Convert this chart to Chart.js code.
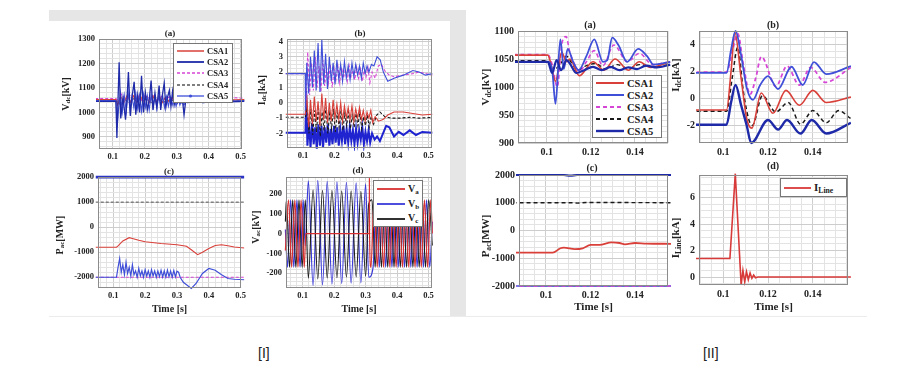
<!DOCTYPE html>
<html>
<head>
<meta charset="utf-8">
<script src="https://cdn.jsdelivr.net/npm/chart.js@4.4.1/dist/chart.umd.min.js"></script>
<style>
  body { margin: 0; width: 920px; height: 390px; background: #fff; position: relative; overflow: hidden;
         font-family: "Liberation Serif", "Times New Roman", serif; }
  canvas { position: absolute; }
  .t { position: absolute; font-weight: bold; color: #222; white-space: nowrap; transform: translate(-50%, -50%); }
  .yl { position: absolute; font-weight: bold; color: #222; white-space: nowrap; transform: translate(-50%, -50%) rotate(-90deg); }
  sub { font-size: 70%; vertical-align: -0.25em; }
  .leg { position: absolute; background: #fff; border: 1px solid #777; box-sizing: border-box; font-weight: bold; color: #222; }
  .leg div { display: flex; align-items: center; }
  .gray { position: absolute; background: #e6e6e6; }
  .cap { position: absolute; font-family: "Liberation Sans", Arial, sans-serif; font-size: 14px; color: #222; }
</style>
</head>
<body>
<div class="gray" style="left:49px;top:10px;width:417px;height:11px"></div>
<div class="gray" style="left:450px;top:10px;width:16px;height:306px"></div>
<div class="gray" style="left:49px;top:316px;width:818px;height:1px;background:#ececec"></div>

<div class="t" style="left:170px;top:33px;font-size:9px">(a)</div>
<div class="t" style="left:360px;top:33px;font-size:9px">(b)</div>
<div class="t" style="left:169px;top:171px;font-size:9px">(c)</div>
<div class="t" style="left:358px;top:170px;font-size:9px">(d)</div>
<div class="t" style="left:590px;top:24px;font-size:10px">(a)</div>
<div class="t" style="left:773px;top:24px;font-size:10px">(b)</div>
<div class="t" style="left:592px;top:167px;font-size:10px">(c)</div>
<div class="t" style="left:773px;top:165px;font-size:10px">(d)</div>

<div class="yl" style="left:66px;top:94px;font-size:10px">V<sub>dc</sub>[kV]</div>
<div class="yl" style="left:262px;top:90px;font-size:10px">I<sub>dc</sub>[kA]</div>
<div class="yl" style="left:60px;top:235px;font-size:10px">P<sub>ac</sub>[MW]</div>
<div class="yl" style="left:256px;top:227px;font-size:10px">V<sub>ac</sub>[kV]</div>
<div class="yl" style="left:486px;top:87px;font-size:11px">V<sub>dc</sub>[kV]</div>
<div class="yl" style="left:676px;top:75px;font-size:11px">I<sub>dc</sub>[kA]</div>
<div class="yl" style="left:486px;top:236px;font-size:11px">P<sub>ac</sub>[MW]</div>
<div class="yl" style="left:676px;top:238px;font-size:11px">I<sub>Line</sub>[kA]</div>

<div class="cap" style="left:258px;top:345px">[I]</div>
<div class="cap" style="left:703px;top:345px">[II]</div>

<script>
// ---------- panel I (a): Vdc [kV] ----------
const ia_csa1 = [[0.045,1052],[0.11,1052],[0.115,1030],[0.125,1065],[0.135,1040],[0.145,1070],[0.155,1042],[0.165,1068],[0.175,1040],[0.185,1072],[0.195,1045],[0.205,1065],[0.215,1040],[0.225,1068],[0.235,1042],[0.245,1066],[0.255,1040],[0.265,1062],[0.275,1045],[0.285,1060],[0.295,1044],[0.305,1058],[0.315,1048],[0.325,1055],[0.34,1060],[0.36,1050],[0.38,1045],[0.4,1048],[0.43,1052],[0.46,1050],[0.512,1052]];
const ia_csa2 = [[0.045,1045],[0.11,1045],[0.113,895],[0.12,1205],[0.125,975],[0.132,1060],[0.14,970],[0.144,1040],[0.149,1165],[0.155,985],[0.16,1060],[0.167,1125],[0.172,990],[0.178,1070],[0.184,1000],[0.19,1150],[0.196,1000],[0.202,1080],[0.208,1010],[0.214,1050],[0.22,1130],[0.226,1010],[0.232,1080],[0.238,1020],[0.245,1110],[0.25,1010],[0.255,1070],[0.261,1120],[0.266,1020],[0.271,1060],[0.277,1090],[0.282,1025],[0.287,1085],[0.292,1030],[0.297,1060],[0.302,1040],[0.308,1075],[0.314,1040],[0.318,1050],[0.323,990],[0.328,1045],[0.335,1040],[0.345,1055],[0.36,1048],[0.37,1052],[0.38,1040],[0.4,1042],[0.43,1045],[0.46,1043],[0.512,1045]];
const ia_csa3 = [[0.045,1057],[0.11,1057],[0.118,1045],[0.128,1075],[0.14,1050],[0.152,1072],[0.165,1048],[0.178,1070],[0.19,1050],[0.203,1072],[0.215,1052],[0.228,1068],[0.24,1050],[0.253,1066],[0.265,1052],[0.278,1064],[0.29,1050],[0.303,1062],[0.315,1055],[0.33,1058],[0.35,1056],[0.37,1050],[0.4,1058],[0.44,1055],[0.48,1060],[0.512,1058]];
const ia_csa4 = [[0.045,1050],[0.11,1050],[0.12,1035],[0.135,1058],[0.15,1038],[0.165,1056],[0.18,1040],[0.2,1055],[0.22,1040],[0.24,1054],[0.26,1042],[0.28,1052],[0.3,1044],[0.32,1050],[0.35,1048],[0.4,1050],[0.45,1049],[0.512,1050]];
const ia_csa5 = [[0.045,1048],[0.11,1048],[0.114,940],[0.118,1010],[0.124,1080],[0.13,1000],[0.136,1070],[0.142,1005],[0.148,1085],[0.154,1010],[0.16,1065],[0.166,1020],[0.172,1080],[0.178,1015],[0.184,1070],[0.19,1005],[0.196,1075],[0.202,1020],[0.208,1068],[0.214,1010],[0.22,1072],[0.226,1020],[0.232,1065],[0.238,1015],[0.244,1070],[0.25,1025],[0.256,1068],[0.262,1020],[0.268,1065],[0.274,1025],[0.28,1062],[0.286,1030],[0.292,1060],[0.298,1025],[0.304,1058],[0.31,1030],[0.316,1055],[0.322,1030],[0.33,1045],[0.34,1050],[0.355,1060],[0.37,1045],[0.385,1040],[0.4,1045],[0.43,1048],[0.46,1046],[0.512,1048]];

// ---------- panel I (b): Idc [kA] ----------
const ib_csa5 = [[0.045,1.9],[0.107,1.9],[0.108,-0.5],[0.112,2.6],[0.118,0.6],[0.124,3.0],[0.13,1.0],[0.136,3.4],[0.142,0.8],[0.148,3.9],[0.154,0.7],[0.16,4.1],[0.166,1.2],[0.172,3.2],[0.178,0.9],[0.184,3.0],[0.19,1.4],[0.196,2.6],[0.202,1.2],[0.208,2.8],[0.214,1.5],[0.22,2.5],[0.226,1.4],[0.232,2.7],[0.238,1.6],[0.244,2.4],[0.25,1.5],[0.256,2.6],[0.262,1.7],[0.268,2.5],[0.274,1.8],[0.28,2.4],[0.286,1.6],[0.292,2.6],[0.298,1.9],[0.304,2.4],[0.31,2.0],[0.318,2.5],[0.326,2.4],[0.336,3.0],[0.346,2.8],[0.356,2.0],[0.37,1.4],[0.39,1.6],[0.42,1.8],[0.45,2.1],[0.47,2.0],[0.49,1.8],[0.512,1.9]];
const ib_csa3 = [[0.045,1.9],[0.108,1.9],[0.11,0.2],[0.115,3.3],[0.121,0.5],[0.127,2.6],[0.133,0.8],[0.139,3.0],[0.145,1.0],[0.151,2.4],[0.157,0.7],[0.163,2.8],[0.169,1.1],[0.175,2.3],[0.181,1.3],[0.187,2.5],[0.193,1.0],[0.199,2.2],[0.205,1.5],[0.211,2.4],[0.217,1.3],[0.223,2.3],[0.229,1.6],[0.235,2.2],[0.241,1.4],[0.247,2.4],[0.253,1.7],[0.259,2.1],[0.265,1.5],[0.271,2.3],[0.277,1.6],[0.283,2.2],[0.289,1.4],[0.295,2.1],[0.301,1.7],[0.307,2.3],[0.313,1.3],[0.32,2.0],[0.33,1.6],[0.34,2.4],[0.35,2.5],[0.36,2.1],[0.375,1.8],[0.39,1.7],[0.42,1.8],[0.45,1.9],[0.47,2.0],[0.512,1.8]];
const ib_csa1 = [[0.045,-0.75],[0.108,-0.75],[0.112,0.5],[0.118,-1.6],[0.124,0.2],[0.13,-1.4],[0.136,0.4],[0.142,-1.2],[0.148,0.1],[0.154,-1.5],[0.16,0.6],[0.166,-1.1],[0.172,0.3],[0.178,-1.3],[0.184,0.0],[0.19,-1.2],[0.196,0.2],[0.202,-1.0],[0.208,-0.1],[0.214,-1.1],[0.22,0.0],[0.226,-1.2],[0.232,-0.2],[0.238,-1.0],[0.244,-0.3],[0.25,-1.1],[0.256,-0.2],[0.262,-1.2],[0.268,-0.4],[0.274,-1.0],[0.28,-0.3],[0.286,-1.1],[0.292,-0.5],[0.298,-1.2],[0.304,-0.6],[0.31,-1.0],[0.316,-0.5],[0.322,-1.3],[0.33,-0.9],[0.34,-1.2],[0.355,-1.1],[0.37,-0.8],[0.39,-0.6],[0.42,-0.6],[0.45,-0.7],[0.48,-0.8],[0.512,-0.75]];
const ib_csa4 = [[0.045,-0.95],[0.108,-0.95],[0.113,-0.3],[0.119,-2.0],[0.125,-0.4],[0.131,-2.1],[0.137,-0.5],[0.143,-1.9],[0.149,-0.2],[0.155,-2.2],[0.161,-0.6],[0.167,-1.8],[0.173,-0.3],[0.179,-2.0],[0.185,-0.7],[0.191,-1.7],[0.197,-0.4],[0.203,-1.9],[0.209,-0.6],[0.215,-1.6],[0.221,-0.5],[0.227,-1.8],[0.233,-0.7],[0.239,-1.5],[0.245,-0.6],[0.251,-1.7],[0.257,-0.8],[0.263,-1.6],[0.269,-0.7],[0.275,-1.5],[0.281,-0.6],[0.287,-1.7],[0.293,-0.9],[0.299,-1.5],[0.305,-0.8],[0.311,-1.6],[0.317,-0.9],[0.325,-1.4],[0.335,-0.8],[0.345,-0.6],[0.36,-0.9],[0.38,-1.0],[0.41,-1.0],[0.44,-0.95],[0.47,-1.0],[0.512,-0.95]];
const ib_csa2 = [[0.045,-1.95],[0.108,-1.95],[0.11,0.8],[0.114,-2.8],[0.119,-1.4],[0.124,-2.9],[0.129,-1.3],[0.134,-2.7],[0.139,-1.6],[0.144,-3.0],[0.149,-1.4],[0.154,-2.8],[0.159,-1.5],[0.164,-2.9],[0.169,-1.6],[0.174,-2.6],[0.179,-1.4],[0.184,-2.8],[0.189,-1.7],[0.194,-2.7],[0.199,-1.5],[0.204,-2.6],[0.209,-1.6],[0.214,-2.8],[0.219,-1.7],[0.224,-2.5],[0.229,-1.5],[0.234,-2.7],[0.239,-1.7],[0.244,-2.6],[0.249,-1.6],[0.254,-2.5],[0.259,-1.8],[0.264,-2.7],[0.269,-1.7],[0.274,-2.6],[0.279,-1.8],[0.284,-2.4],[0.289,-1.6],[0.294,-2.7],[0.299,-1.9],[0.304,-2.5],[0.309,-1.8],[0.314,-2.6],[0.32,-2.0],[0.328,-2.4],[0.336,-2.2],[0.345,-2.5],[0.355,-2.0],[0.365,-1.5],[0.375,-1.6],[0.39,-2.2],[0.405,-1.9],[0.42,-2.1],[0.44,-1.8],[0.46,-2.1],[0.48,-1.9],[0.512,-1.95]];

// ---------- panel I (c): Pac [MW] ----------
const ic_top = [[0.045,2000],[0.512,2000]];
const ic_csa4 = [[0.045,1000],[0.512,1000]];
const ic_csa1 = [[0.045,-800],[0.11,-800],[0.115,-750],[0.13,-550],[0.15,-420],[0.16,-450],[0.18,-520],[0.2,-580],[0.25,-650],[0.3,-700],[0.33,-760],[0.345,-900],[0.365,-1100],[0.38,-1000],[0.4,-850],[0.42,-730],[0.44,-700],[0.46,-740],[0.48,-790],[0.512,-830]];
const ic_csa3 = [[0.045,-2000],[0.512,-2000]];
const ic_csa5 = [[0.045,-2000],[0.11,-2000],[0.115,-1600],[0.12,-1250],[0.125,-1800],[0.13,-1500],[0.135,-1900],[0.14,-1400],[0.145,-1850],[0.15,-1600],[0.155,-1950],[0.16,-1500],[0.165,-1900],[0.17,-1750],[0.175,-2000],[0.18,-1650],[0.185,-1950],[0.19,-1750],[0.195,-2000],[0.2,-1700],[0.205,-1950],[0.21,-1750],[0.215,-2000],[0.22,-1700],[0.225,-1950],[0.23,-1750],[0.235,-2000],[0.24,-1750],[0.245,-1980],[0.25,-1720],[0.255,-1990],[0.26,-1750],[0.265,-2000],[0.27,-1720],[0.275,-1980],[0.28,-1750],[0.285,-2000],[0.29,-1730],[0.295,-1990],[0.3,-1760],[0.305,-1800],[0.31,-2000],[0.32,-2200],[0.33,-2300],[0.345,-2450],[0.36,-2250],[0.38,-1850],[0.4,-1650],[0.42,-1720],[0.44,-1900],[0.46,-2050],[0.48,-2080],[0.512,-2100]];

// ---------- panel I (d): Vac [kV] ----------
const id_va = [[0.045,-85],[0.055,170],[0.065,-170],[0.075,170],[0.085,-170],[0.095,170],[0.105,-170],[0.11,0],[0.111,0],[0.3115,0],[0.312,278],[0.3125,0],[0.317,-170],[0.327,170],[0.337,-170],[0.347,170],[0.357,-170],[0.367,170],[0.377,-170],[0.387,170],[0.397,-170],[0.407,170],[0.417,-170],[0.427,170],[0.437,-170],[0.447,170],[0.457,-170],[0.467,170],[0.477,-170],[0.487,170],[0.497,-170],[0.507,170],[0.512,0]];
const id_vb = [[0.045,20],[0.0517,-170],[0.0617,170],[0.0717,-170],[0.0817,170],[0.0917,-170],[0.1017,170],[0.108,-60],[0.118,265],[0.133,-262],[0.148,268],[0.163,-258],[0.178,262],[0.193,-255],[0.209,260],[0.224,-252],[0.239,258],[0.254,-250],[0.27,255],[0.285,-248],[0.3,250],[0.31,-220],[0.3237,-170],[0.3337,170],[0.3437,-170],[0.3537,170],[0.3637,-170],[0.3737,170],[0.3837,-170],[0.3937,170],[0.4037,-170],[0.4137,170],[0.4237,-170],[0.4337,170],[0.4437,-170],[0.4537,170],[0.4637,-170],[0.4737,170],[0.4837,-170],[0.4937,170],[0.5037,-170],[0.512,60]];
const id_vc = [[0.045,60],[0.0483,170],[0.0583,-170],[0.0683,170],[0.0783,-170],[0.0883,170],[0.0983,-170],[0.1083,170],[0.118,-225],[0.133,220],[0.148,-228],[0.163,218],[0.178,-224],[0.193,218],[0.209,-222],[0.224,215],[0.239,-220],[0.254,215],[0.27,-218],[0.285,212],[0.3,-215],[0.31,150],[0.3203,170],[0.3303,-170],[0.3403,170],[0.3503,-170],[0.3603,170],[0.3703,-170],[0.3803,170],[0.3903,-170],[0.4003,170],[0.4103,-170],[0.4203,170],[0.4303,-170],[0.4403,170],[0.4503,-170],[0.4603,170],[0.4703,-170],[0.4803,170],[0.4903,-170],[0.5003,170],[0.512,-60]];

// ---------- panel II (a): Vdc [kV] ----------
const iia_csa1 = [[0.085,1057],[0.1005,1057],[0.102,1040],[0.104,1010],[0.1068,1062],[0.109,1045],[0.1105,1050],[0.1148,1020],[0.121,1045],[0.126,1030],[0.131,1050],[0.137,1030],[0.142,1045],[0.147,1035],[0.156,1045]];
const iia_csa2 = [[0.085,1045],[0.1005,1045],[0.1025,1030],[0.104,970],[0.1062,1085],[0.1078,1032],[0.1095,1068],[0.112,1045],[0.1145,1030],[0.118,1055],[0.1216,1085],[0.1255,1045],[0.1275,1048],[0.1297,1088],[0.1325,1075],[0.1365,1045],[0.1415,1068],[0.1455,1055],[0.1485,1040],[0.156,1045]];
const iia_csa3 = [[0.085,1058],[0.1005,1058],[0.1025,1040],[0.1048,1000],[0.1068,1075],[0.1088,1090],[0.1105,1062],[0.1125,1042],[0.1148,1028],[0.118,1045],[0.1215,1065],[0.1255,1038],[0.1305,1075],[0.1365,1045],[0.142,1060],[0.148,1040],[0.156,1045]];
const iia_csa4 = [[0.085,1047],[0.1005,1047],[0.103,1030],[0.106,1040],[0.109,1055],[0.111,1045],[0.114,1030],[0.118,1038],[0.122,1042],[0.127,1032],[0.132,1040],[0.137,1033],[0.142,1040],[0.148,1036],[0.156,1040]];
const iia_csa5 = [[0.085,1045],[0.1005,1045],[0.1025,1025],[0.1045,1048],[0.1065,1030],[0.109,1048],[0.1105,1042],[0.1135,1025],[0.117,1030],[0.121,1036],[0.125,1030],[0.129,1036],[0.133,1030],[0.137,1035],[0.141,1032],[0.145,1038],[0.15,1035],[0.156,1040]];

// ---------- panel II (b): Idc [kA] ----------
const iib_csa2 = [[0.085,1.9],[0.1015,1.9],[0.1035,3.6],[0.1055,5.0],[0.108,3.2],[0.1105,0.8],[0.1133,-0.1],[0.1165,1.0],[0.12,1.65],[0.1245,0.7],[0.1305,2.35],[0.1355,1.0],[0.1405,2.7],[0.146,1.8],[0.157,2.4]];
const iib_csa3 = [[0.085,1.95],[0.1015,1.95],[0.104,3.5],[0.1065,4.8],[0.109,2.5],[0.112,0.3],[0.1145,1.5],[0.117,3.1],[0.1235,0.9],[0.1285,2.4],[0.134,1.0],[0.139,2.3],[0.1455,1.2],[0.157,2.3]];
const iib_csa1 = [[0.085,-0.85],[0.1015,-0.85],[0.1035,2.0],[0.1052,4.9],[0.108,1.5],[0.1105,-1.5],[0.1128,-2.2],[0.117,0.4],[0.1222,-1.1],[0.128,0.6],[0.134,-0.5],[0.14,0.6],[0.146,-0.3],[0.157,0.1]];
const iib_csa4 = [[0.085,-0.95],[0.1015,-0.95],[0.104,1.5],[0.1065,3.8],[0.109,0.5],[0.1115,-1.6],[0.113,-2.0],[0.1175,0.2],[0.1235,-1.0],[0.129,-0.3],[0.1345,-1.9],[0.14,-0.9],[0.146,-1.8],[0.1515,-0.9],[0.157,-1.5]];
const iib_csa5 = [[0.085,-1.95],[0.1015,-1.95],[0.1035,-0.3],[0.1055,1.0],[0.108,-0.5],[0.1105,-2.0],[0.1125,-3.3],[0.12,-1.6],[0.1245,-2.3],[0.1285,-1.6],[0.1345,-2.6],[0.1395,-1.6],[0.146,-2.6],[0.157,-1.8]];

// ---------- panel II (c): Pac [MW] ----------
const iic_top = [[0.085,2000],[0.108,2000],[0.111,1975],[0.114,2000],[0.157,2000]];
const iic_csa4 = [[0.085,1000],[0.112,1000],[0.114,985],[0.118,1010],[0.157,1000]];
const iic_csa1 = [[0.085,-800],[0.103,-800],[0.1065,-640],[0.108,-620],[0.113,-670],[0.1165,-640],[0.12,-520],[0.124,-520],[0.1295,-430],[0.133,-450],[0.1355,-500],[0.14,-450],[0.145,-470],[0.157,-480]];
const iic_csa3 = [[0.085,-2000],[0.157,-2000]];

// ---------- panel II (d): ILine [kA] ----------
const iid_line = [[0.085,1.4],[0.103,1.4],[0.1054,7.8],[0.108,-0.6],[0.1088,0.5],[0.1096,-0.35],[0.1104,0.4],[0.1112,-0.2],[0.112,0.3],[0.1128,-0.1],[0.1136,0.15],[0.1144,-0.05],[0.1155,0],[0.157,0]];

// tick labels
const xTicksI = [0.1, 0.2, 0.3, 0.4, 0.5];
const xTicksII = [0.1, 0.12, 0.14];

Chart.defaults.font.family = '"Liberation Serif", "Times New Roman", serif';
Chart.defaults.font.weight = 'bold';
Chart.defaults.color = '#222';

const framePlugin = {
  id: 'frame',
  afterDatasetsDraw(chart) {
    const a = chart.chartArea, c = chart.ctx;
    c.save();
    c.strokeStyle = '#8c8c8c';
    c.lineWidth = 1;
    c.strokeRect(Math.round(a.left) + 0.5, Math.round(a.top) + 0.5, Math.round(a.right - a.left) - 1, Math.round(a.bottom - a.top) - 1);
    c.restore();
  }
};

function pts(arr) { return arr.map(p => ({ x: p[0], y: p[1] })); }

function line(arr, color, width, dash, smooth) {
  return {
    data: pts(arr), borderColor: color, borderWidth: width, borderDash: dash || [],
    pointRadius: 0, fill: false, tension: 0, clip: 3,
    cubicInterpolationMode: smooth ? 'monotone' : 'default'
  };
}

function axis(kind, range, majors, minorStep, fs, size, title, tfs) {
  const near = (a, b) => Math.abs(a - b) < minorStep * 1e-3;
  const isMajor = v => majors.some(m => near(m, v));
  return {
    type: 'linear', min: range[0], max: range[1],
    afterBuildTicks: s => {
      const vals = [];
      const k0 = Math.ceil(range[0] / minorStep - 1e-6), k1 = Math.floor(range[1] / minorStep + 1e-6);
      for (let k = k0; k <= k1; k++) vals.push(+(k * minorStep).toFixed(6));
      s.ticks = vals.map(v => ({ value: v }));
    },
    afterFit: s => { if (kind === 'x') s.height = size; else s.width = size; },
    grid: { color: c => isMajor(c.tick.value) ? '#cdcdcd' : '#e3e3e3', drawTicks: false, lineWidth: 1 },
    border: { display: false },
    ticks: {
      autoSkip: false, maxRotation: 0, minRotation: 0, padding: kind === 'x' ? 3 : 4, color: '#222',
      font: { size: fs, weight: 'bold' },
      callback: v => isMajor(v) ? String(Math.round(v * 1e4) / 1e4) : ''
    },
    title: title ? { display: true, text: title, color: '#222', font: { size: tfs, weight: 'bold' }, padding: { top: 0, bottom: 0 } } : { display: false }
  };
}

function plot(p) {
  const yW = 36, pad = 7;
  const xH = p.xTitle ? p.xH : 16;
  const cv = document.createElement('canvas');
  const w = p.box.r - p.box.l + yW + pad, h = p.box.b - p.box.t + pad + xH;
  cv.width = w; cv.height = h;
  cv.style.left = (p.box.l - yW) + 'px';
  cv.style.top = (p.box.t - pad) + 'px';
  cv.style.width = w + 'px'; cv.style.height = h + 'px';
  document.body.insertBefore(cv, document.body.firstChild.nextSibling);
  new Chart(cv, {
    type: 'line',
    data: { datasets: p.sets },
    options: {
      responsive: false, animation: false, devicePixelRatio: 1,
      layout: { padding: { top: pad, right: pad, left: 0, bottom: 0 }, autoPadding: false },
      plugins: { legend: { display: false }, tooltip: { enabled: false } },
      scales: {
        x: axis('x', p.xr, p.xMaj, p.xMin, p.fs, xH, p.xTitle, p.tfs),
        y: axis('y', p.yr, p.yMaj, p.yMin, p.fs, yW)
      }
    },
    plugins: [framePlugin]
  });
}

function legend(x, y, w, h, fs, sw, rows) {
  const el = document.createElement('div');
  el.className = 'leg';
  Object.assign(el.style, { left: x + 'px', top: y + 'px', width: w + 'px', height: h + 'px', fontSize: fs + 'px', paddingTop: '1px' });
  rows.forEach(r => {
    const d = document.createElement('div');
    d.style.height = ((h - 3) / rows.length) + 'px';
    d.innerHTML = `<svg width="${sw}" height="8" style="margin:0 3px 0 3px;flex:none"><line x1="0" y1="4" x2="${sw}" y2="4" stroke="${r.c}" stroke-width="${r.w}" stroke-dasharray="${r.d || ''}"/>` +
      (r.m ? `<circle cx="${sw / 2}" cy="4" r="1.6" fill="${r.c}"/>` : '') + `</svg><span>${r.t}</span>`;
    el.appendChild(d);
  });
  document.body.appendChild(el);
}

// colours
const cRed = '#d9403a', cNavy = '#1e2aa8', cMag = '#d646d6', cGray = '#555', cBlue = '#3f4fd8', cBlack = '#1a1a1a';

plot({ box: { l: 99, t: 37, r: 242, b: 149 }, xr: [0.057, 0.503], yr: [850, 1300],
  xMaj: xTicksI, yMaj: [900, 1000, 1100, 1200, 1300], xMin: 0.02, yMin: 20, fs: 8.5,
  sets: [line(ia_csa2, cNavy, 1.3), line(ia_csa5, cBlue, 1.1), line(ia_csa1, cRed, 1.1),
         line(ia_csa3, cMag, 1.1, [3, 2]), line(ia_csa4, cGray, 1.1, [3, 2])] });

plot({ box: { l: 287, t: 37, r: 432, b: 148 }, xr: [0.049, 0.511], yr: [-2.95, 4.15],
  xMaj: xTicksI, yMaj: [-2, -1, 0, 1, 2, 3, 4], xMin: 0.02, yMin: 0.25, fs: 8.5,
  sets: [line(ib_csa5, cBlue, 1.1), line(ib_csa3, cMag, 1.1, [3, 2]), line(ib_csa1, cRed, 1.1),
         line(ib_csa4, cBlack, 1.1, [3, 2]), line(ib_csa2, '#1f24d0', 2)] });

plot({ box: { l: 98, t: 175, r: 242, b: 288 }, xr: [0.052, 0.502], yr: [-2430, 2000],
  xMaj: xTicksI, yMaj: [-2000, -1000, 0, 1000, 2000], xMin: 0.02, yMin: 200, fs: 8.5,
  xTitle: 'Time [s]', tfs: 10, xH: 27,
  sets: [line(ic_top, '#2a33c4', 2.6), line(ic_csa4, cGray, 1, [3, 2]), line(ic_csa1, cRed, 1.1),
         line(ic_csa5, cBlue, 1.2), line(ic_csa3, cMag, 1.1, [3, 2])] });

plot({ box: { l: 286, t: 175, r: 432, b: 288 }, xr: [0.047, 0.511], yr: [-274, 284],
  xMaj: xTicksI, yMaj: [-200, -100, 0, 100, 200], xMin: 0.02, yMin: 20, fs: 8.5,
  xTitle: 'Time [s]', tfs: 10, xH: 27,
  sets: [line(id_va, '#d83030', 1.2, null, true), line(id_vc, cBlack, 1.1, null, true), line(id_vb, '#3a3ad8', 1.2, null, true)] });

plot({ box: { l: 518, t: 28, r: 668, b: 143 }, xr: [0.087, 0.155], yr: [900, 1100],
  xMaj: xTicksII, yMaj: [900, 950, 1000, 1050, 1100], xMin: 0.005, yMin: 10, fs: 10,
  sets: [line(iia_csa5, cNavy, 2.2, null, true), line(iia_csa2, cBlue, 1.8, null, true), line(iia_csa1, cRed, 1.6, null, true),
         line(iia_csa3, cMag, 1.6, [4, 3], true), line(iia_csa4, cBlack, 1.4, [4, 3], true)] });

plot({ box: { l: 699, t: 28, r: 848, b: 143 }, xr: [0.0892, 0.1557], yr: [-3.3, 5.0],
  xMaj: xTicksII, yMaj: [-2, 0, 2, 4], xMin: 0.005, yMin: 0.5, fs: 10,
  sets: [line(iib_csa5, cNavy, 2.4, null, true), line(iib_csa2, cBlue, 1.8, null, true), line(iib_csa1, cRed, 1.6, null, true),
         line(iib_csa3, cMag, 1.8, [4, 3], true), line(iib_csa4, cBlack, 1.5, [4, 3], true)] });

plot({ box: { l: 519, t: 172, r: 668, b: 286 }, xr: [0.0879, 0.1548], yr: [-2000, 2000],
  xMaj: xTicksII, yMaj: [-2000, -1000, 0, 1000, 2000], xMin: 0.005, yMin: 200, fs: 10,
  xTitle: 'Time [s]', tfs: 11, xH: 28,
  sets: [line(iic_top, cNavy, 2.2, null, true), line(iic_csa4, cBlack, 1.4, [4, 3], true),
         line(iic_csa1, cRed, 1.8, null, true), line(iic_csa3, cMag, 1.6, [4, 3]), line(iic_csa3, cBlue, 1.6)] });

plot({ box: { l: 699, t: 172, r: 848, b: 285 }, xr: [0.0892, 0.1557], yr: [-0.6, 7.7],
  xMaj: xTicksII, yMaj: [0, 2, 4, 6], xMin: 0.005, yMin: 0.5, fs: 10,
  xTitle: 'Time [s]', tfs: 11, xH: 29,
  sets: [line(iid_line, '#d83a3a', 1.6)] });

legend(173, 43, 60, 60, 8.5, 27, [
  { t: 'CSA1', c: cRed, w: 1.5 }, { t: 'CSA2', c: cNavy, w: 1.8 }, { t: 'CSA3', c: cMag, w: 1.5, d: '3,2' },
  { t: 'CSA4', c: cGray, w: 1.5, d: '3,2' }, { t: 'CSA5', c: cBlue, w: 1.3, m: true }]);
legend(373, 180, 50, 47, 10, 28, [
  { t: 'V<sub>a</sub>', c: '#d83030', w: 1.8 }, { t: 'V<sub>b</sub>', c: '#3a3ad8', w: 1.8 }, { t: 'V<sub>c</sub>', c: cBlack, w: 1.8 }]);
legend(592, 75, 70, 63, 10.5, 28, [
  { t: 'CSA1', c: cRed, w: 2 }, { t: 'CSA2', c: cBlue, w: 2 }, { t: 'CSA3', c: cMag, w: 2, d: '4,3' },
  { t: 'CSA4', c: cBlack, w: 1.8, d: '4,3' }, { t: 'CSA5', c: cNavy, w: 2.4 }]);
legend(780, 178, 67, 19, 11, 27, [{ t: 'I<sub>Line</sub>', c: '#d83a3a', w: 1.8 }]);
</script>
</body>
</html>
